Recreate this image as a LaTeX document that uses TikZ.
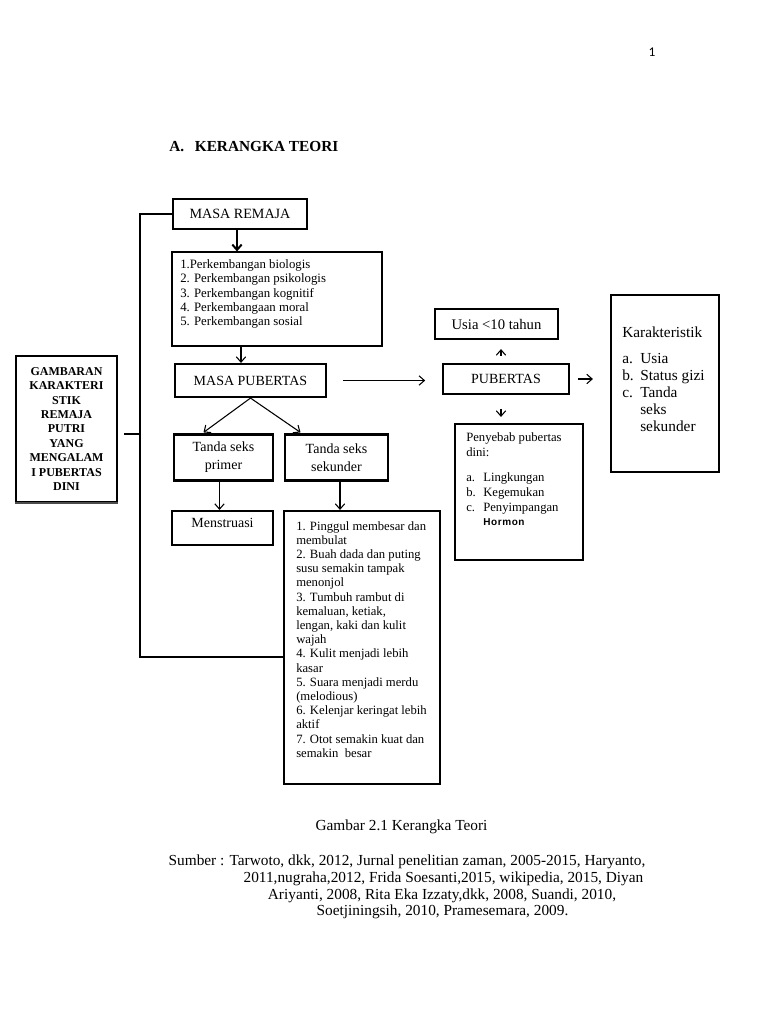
\documentclass[tikz,border=0pt]{standalone}
\usepackage{fontspec}
\setmainfont{Liberation Serif}
\newfontfamily\hormfont[LetterSpace=6]{Liberation Sans}
\newfontfamily\pnfont{Carlito}
\usetikzlibrary{arrows.meta,calc}
\newcommand\fsz[2]{\fontsize{#1}{#2}\selectfont}
\begin{document}
\begin{tikzpicture}[x=0.75pt,y=-0.75pt,
  thinbox/.style={draw, line width=0.9pt, inner sep=0pt},
  thickbox/.style={draw, line width=1.6pt, inner sep=0pt},
  txt/.style={inner sep=0pt, align=left, anchor=north west},
  conn/.style={line width=0.8pt},
  arr/.style={-{Straight Barb[length=4pt,width=7pt]}, line width=0.8pt}]
\useasboundingbox (0,0) rectangle (768,1024);

% titles
\node[font=\pnfont\fsz{10}{11}] (pg) at (652,52) {1};
\node[anchor=west, font=\bfseries\fsz{11.5}{13}, inner sep=0pt] (head) at (169,147) {A.\hspace{8pt}KERANGKA TEORI};

% boxes
\node[thinbox, minimum width=100.5pt, minimum height=22.5pt, font=\fsz{10.6}{12}] (remaja) at (240,214) {MASA REMAJA};
\node[thinbox, minimum width=157.5pt, minimum height=70.5pt] (perk) at (277,299) {};
\node[txt, font=\fsz{9.6}{10.65}] (perkT) at (180,259.5) {1.Perkembangan biologis\\2. Perkembangan psikologis\\3. Perkembangan kognitif\\4. Perkembangaan moral\\5. Perkembangan sosial};

\node[thickbox, minimum width=113.25pt, minimum height=24.75pt, font=\fsz{10.5}{12}] (pubmasa) at (250.5,380.5) {MASA PUBERTAS};
\node[thickbox, minimum width=74.25pt, minimum height=34.5pt, align=center, font=\fsz{10.5}{13.5}] (tprim) at (223.5,457.5) {Tanda seks\\primer};
\node[thickbox, minimum width=77.25pt, minimum height=34.5pt, align=center, font=\fsz{10.5}{13.5}] (tsek) at (336.5,457.5) {Tanda seks\\sekunder};
\node[thickbox, minimum width=75.75pt, minimum height=25.5pt, text depth=7.5pt, font=\fsz{10.5}{12}] (mens) at (222.5,528) {Menstruasi};

\node[thickbox, minimum width=117pt, minimum height=204.75pt] (big) at (362,647.5) {};
\node[txt, font=\fsz{9.5}{10.65}] (bigT) at (296,521) {1. Pinggul membesar dan\\membulat\\2. Buah dada dan puting\\susu semakin tampak\\menonjol\\3. Tumbuh rambut di\\kemaluan, ketiak,\\lengan, kaki dan kulit\\wajah\\4. Kulit menjadi lebih\\kasar\\5. Suara menjadi merdu\\(melodious)\\6. Kelenjar keringat lebih\\aktif\\7. Otot semakin kuat dan\\semakin\ \ besar};

\node[thickbox, minimum width=92.25pt, minimum height=22.5pt, font=\fsz{11}{12}] (usia) at (496.5,324) {Usia <10 tahun};
\node[draw, line width=1.2pt, inner sep=0pt, minimum width=94.5pt, minimum height=22.5pt, font=\fsz{10.5}{12}] (pub) at (506,379) {PUBERTAS};

\node[thickbox, minimum width=96pt, minimum height=102pt] (peny) at (519,492) {};
\node[txt, font=\fsz{9.5}{10.9}] (penyT) at (466,432.5) {Penyebab pubertas\\dini:\\[8.5pt]\makebox[12.75pt][l]{a.}Lingkungan\\\makebox[12.75pt][l]{b.}Kegemukan\\\makebox[12.75pt][l]{c.}Penyimpangan\\\hspace*{12.75pt}{\hormfont\bfseries\fsz{7.5}{10.9}Hormon}};

\node[thickbox, minimum width=81pt, minimum height=132.75pt] (kar) at (665,383.5) {};
\node[txt, font=\fsz{11.5}{12.7}] (karT) at (622,326.5) {Karakteristik\\[7pt]\makebox[13.5pt][l]{a.}Usia\\\makebox[13.5pt][l]{b.}Status gizi\\\makebox[13.5pt][l]{c.}Tanda\\\hspace*{13.5pt}seks\\\hspace*{13.5pt}sekunder};

\node[thinbox, minimum width=75.75pt, minimum height=109.5pt, align=center, font=\bfseries\fsz{9}{10.8}] (gamb) at (66.5,429) {GAMBARAN\\KARAKTERI\\STIK\\REMAJA\\PUTRI\\YANG\\MENGALAM\\I PUBERTAS\\DINI};
\draw[gray!60!black, line width=1.4pt] (gamb.south west) -- (gamb.south east);

% connector lines
\coordinate (lbot) at (140,657);
\coordinate (stub) at (124,434);
\draw[conn] (remaja.west) -| (lbot) -- (lbot -| big.west);
\draw[conn] (stub) -- (stub -| lbot);

% arrows
\coordinate (xa) at (237,0);
\coordinate (xb) at (241,0);
\coordinate (xc) at (501,0);
\draw[arr, line width=1.5pt] (xa |- remaja.south) -- (xa |- perk.north);
\draw[arr] (xb |- perk.south) -- (xb |- pubmasa.north);
\draw[arr] ($(pubmasa.east)+(16,0)$) -- ($(pubmasa.east -| pub.west)+(-17,0)$);
\draw[arr] ($(pub.east)+(8,0)$) -- ($(pub.east -| kar.west)+(-17,0)$);
\draw[arr] ($(xc |- pub.north)+(0,-7)$) -- ($(xc |- usia.south)+(0,9)$);
\draw[arr] ($(xc |- pub.south)+(0,14)$) -- ($(xc |- peny.north)+(0,-6)$);
\draw[arr] (pubmasa.south) -- ($(tprim.north)+(-20,-1)$);
\draw[arr] (pubmasa.south) -- ($(tsek.north)+(-36,-1)$);
\draw[arr] ($(tprim.south)+(-4,0)$) -- ($(tprim.south |- mens.north)+(-4,0)$);
\draw[arr] ($(tsek.south)+(3.5,0)$) -- ($(tsek.south |- big.north)+(3.5,0)$);

% caption
\node[font=\fsz{11.5}{13}] (cap) at (401.5,827) {Gambar 2.1 Kerangka Teori};
\node[font=\fsz{11.5}{13}] (s1) at (407,862) {Sumber : Tarwoto, dkk, 2012, Jurnal penelitian zaman, 2005-2015, Haryanto,};
\node[font=\fsz{11.5}{13}] (s2) at (443.5,879) {2011,nugraha,2012, Frida Soesanti,2015, wikipedia, 2015, Diyan};
\node[font=\fsz{11.5}{13}] (s3) at (442,896) {Ariyanti, 2008, Rita Eka Izzaty,dkk, 2008, Suandi, 2010,};
\node[font=\fsz{11.5}{13}] (s4) at (442.5,912) {Soetjiningsih, 2010, Pramesemara, 2009.};
\end{tikzpicture}
\end{document}
